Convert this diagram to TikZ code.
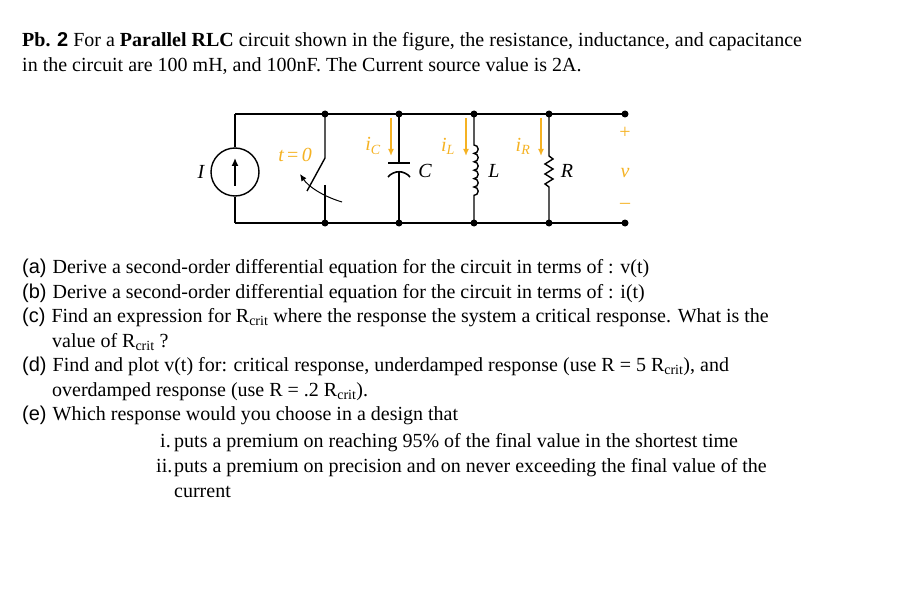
\documentclass[tikz,border=0pt]{standalone}
\usepackage{fontspec}
\setmainfont{Liberation Serif}
\setsansfont{Liberation Sans}
\usetikzlibrary{arrows.meta}
\definecolor{org}{RGB}{245,178,35}
\begin{document}
\begin{tikzpicture}[x=1pt,y=-1pt,
  txt/.style={anchor=base west,inner sep=0,font=\fontsize{20}{24}\selectfont},
  wire/.style={line width=1.4pt},
  dotc/.style={circle,fill=black,inner sep=0,minimum size=7pt},
  lab/.style={font=\fontsize{20}{24}\selectfont\itshape,inner sep=0},
  olab/.style={lab,text=org},
  oarr/.style={org,line width=1.4pt,-{Latex[length=7pt,width=6pt]}}]
\useasboundingbox (0,0) rectangle (915,596);
% text
\node[txt] (t1) at (22,47) {\textbf{Pb.} \textsf{\textbf{2}} For a \textbf{Parallel RLC} circuit shown in the figure, the resistance, inductance, and capacitance};
\node[txt] (t2) at (22,72) {in the circuit are 100 mH, and 100nF. The Current source value is 2A.};
\node[txt] (a1) at (22,273) {\textsf{(a)}\hspace{6pt}Derive a second-order differential equation for the circuit in terms of : v(t)};
\node[txt] (b1) at (22,298) {\textsf{(b)}\hspace{6pt}Derive a second-order differential equation for the circuit in terms of : i(t)};
\node[txt] (c1) at (22,322) {\textsf{(c)}\hspace{6pt}Find an expression for R\textsubscript{crit} where the response the system a critical response. What is the};
\node[txt] (c2) at (52,347) {value of R\textsubscript{crit} ?};
\node[txt] (d1) at (22,371) {\textsf{(d)}\hspace{6pt}Find and plot v(t) for: critical response, underdamped response (use R = 5 R\textsubscript{crit}), and};
\node[txt] (d2) at (52,396) {overdamped response (use R = .2 R\textsubscript{crit}).};
\node[txt] (e1) at (22,420) {\textsf{(e)}\hspace{6pt}Which response would you choose in a design that};
\node[txt] (e2) at (160,447) {i.};
\node[txt] (e3) at (174,447) {puts a premium on reaching 95\% of the final value in the shortest time};
\node[txt] (e4) at (156,472) {ii.};
\node[txt] (e5) at (174,472) {puts a premium on precision and on never exceeding the final value of the};
\node[txt] (e6) at (174,497) {current};
% circuit coordinates
\foreach \n/\x in {s/325,c/399,l/474,r/549,o/625}{
  \coordinate (\n t) at (\x,114); \coordinate (\n b) at (\x,223);}
\coordinate (lt0) at (235,114); \coordinate (lb0) at (235,223);
\draw[wire] (lt0) -- (ot); \draw[wire] (lb0) -- (ob);
% source
\node[circle,draw,line width=1.4pt,minimum size=48pt,inner sep=0] (src) at (235,172) {};
\draw[wire] (lt0) -- (src.north); \draw[wire] (lb0) -- (src.south);
\draw[line width=1.4pt,-{Latex[length=8pt,width=7pt]}] (235,186) -- (235,158);
\node[lab] (I) at (201,172) {I};
% switch
\coordinate (sw1) at (325,158); \coordinate (sw2) at (307,191); \coordinate (sw3) at (325,185);
\draw[wire] (st) -- (sw1) -- (sw2); \draw[wire] (sw3) -- (sb);
\draw[line width=1pt,-{Latex[length=7pt,width=6pt]}] (342,202) .. controls (322,196) and (308,186) .. (300,174);
\node[olab] (t0) at (295,155) {t\,{\upshape=}\,0};
% capacitor
\coordinate (c1) at (399,163); \coordinate (c2) at (399,172);
\draw[wire] (ct) -- (c1); \draw[wire] (c2) -- (cb);
\draw[line width=1.6pt] (388,163) -- (410,163);
\draw[line width=1.6pt] (388,177) .. controls (394,170) and (404,170) .. (410,177);
\node[lab] (C) at (425,171) {C};
\draw[oarr] (391,118) -- (391,156); \node[olab] (iC) at (373,146) {i\textsubscript{C}};
% inductor
\draw[wire] (lt) -- (474,145)
  arc[start angle=-90,end angle=90,radius=4.2]
  arc[start angle=-90,end angle=90,radius=4.2]
  arc[start angle=-90,end angle=90,radius=4.2]
  arc[start angle=-90,end angle=90,radius=4.2]
  arc[start angle=-90,end angle=90,radius=4.2]
  arc[start angle=-90,end angle=90,radius=4.2] -- (lb);
\node[lab] (L) at (494,171) {L};
\draw[oarr] (466,118) -- (466,156); \node[olab] (iL) at (448,146) {i\textsubscript{L}};
% resistor
\draw[wire] (rt) -- (549,156) -- (553,159) -- (545,164) -- (553,169) -- (545,174) -- (553,179) -- (545,184) -- (549,187) -- (rb);
\node[lab] (R) at (567,171) {R};
\draw[oarr] (541,118) -- (541,156); \node[olab] (iR) at (523,146) {i\textsubscript{R}};
% terminals
\node[olab,font=\fontsize{20}{24}\selectfont] (pl) at (625,133) {+};
\node[olab] (v) at (625,173) {v};
\node[olab,font=\fontsize{20}{24}\selectfont] (mi) at (625,206) {\textendash};
\foreach \n in {s,c,l,r,o}{\node[dotc] at (\n t) {}; \node[dotc] at (\n b) {};}
\end{tikzpicture}
\end{document}
